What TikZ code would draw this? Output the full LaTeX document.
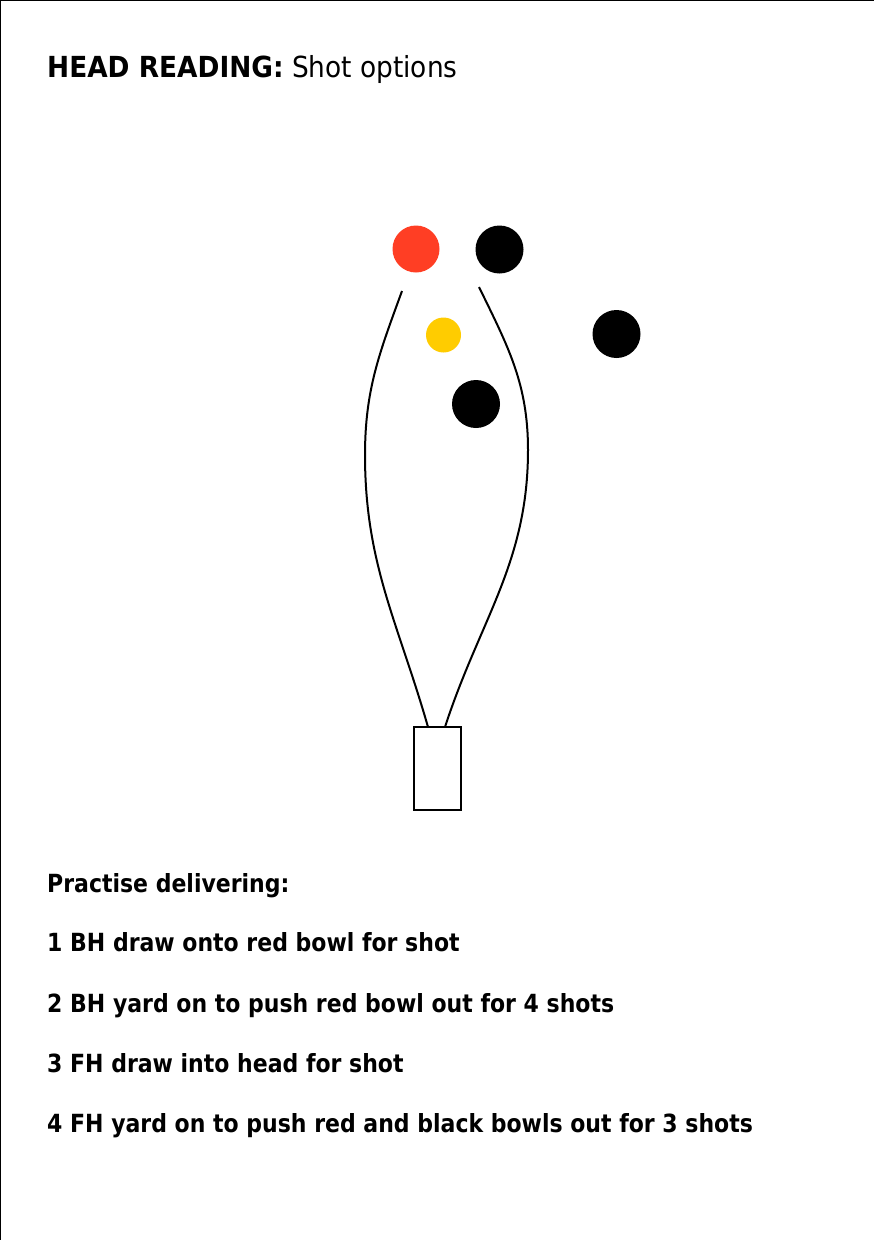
\documentclass[tikz,border=0pt]{standalone}
\usepackage{fontspec}
\newfontfamily\tah[FakeStretch=0.88]{DejaVu Sans}
\newfontfamily\tahtitle[FakeStretch=0.91]{DejaVu Sans}
\definecolor{bowlred}{RGB}{255,62,36}
\definecolor{jackyellow}{RGB}{255,204,0}
\begin{document}
\begin{tikzpicture}[x=1pt,y=-1pt,
  bowl/.style={circle,inner sep=0pt,minimum size=48pt,fill=black},
  txt/.style={anchor=base west,inner sep=0pt,font=\tah\bfseries\fontsize{25}{28}\selectfont},
  path/.style={line width=2pt}]
\useasboundingbox (0,0) rectangle (874,1240);
\fill[white] (0,0) rectangle (874,1240);
\draw[line width=2.4pt] (0,1240) -- (0,0) -- (874,0);
\node[anchor=base west,inner sep=0pt,font=\tahtitle\fontsize{29}{32}\selectfont] (title) at (47,77) {\textbf{HEAD READING:} Shot options};
\node[bowl,fill=bowlred,minimum size=47pt] (red) at (416,249) {};
\node[bowl] (b1) at (499.5,249.5) {};
\node[bowl,fill=jackyellow,minimum size=35pt] (jack) at (443.5,335) {};
\node[bowl] (b2) at (616.5,334) {};
\node[bowl] (b3) at (476,404) {};
\node[draw,line width=2pt,minimum width=47pt,minimum height=83pt,inner sep=0pt] (mat) at (437.5,768.5) {};
\coordinate (ls) at (402,291);
\coordinate (rs) at (479,287);
\coordinate (le) at (428,727);
\coordinate (re) at (445,727);
\draw[path] (ls) to[out=-110,in=90] (365,455) to[out=-90,in=106] (le);
\draw[path] (rs) to[out=-64,in=90] (528,450) to[out=-90,in=72] (re);
\node[txt] (p0) at (47,892) {Practise delivering:};
\node[txt] (p1) at (47,951) {1 BH draw onto red bowl for shot};
\node[txt] (p2) at (47,1012) {2 BH yard on to push red bowl out for 4 shots};
\node[txt] (p3) at (47,1072) {3 FH draw into head for shot};
\node[txt] (p4) at (47,1132) {4 FH yard on to push red and black bowls out for 3 shots};
\end{tikzpicture}
\end{document}
